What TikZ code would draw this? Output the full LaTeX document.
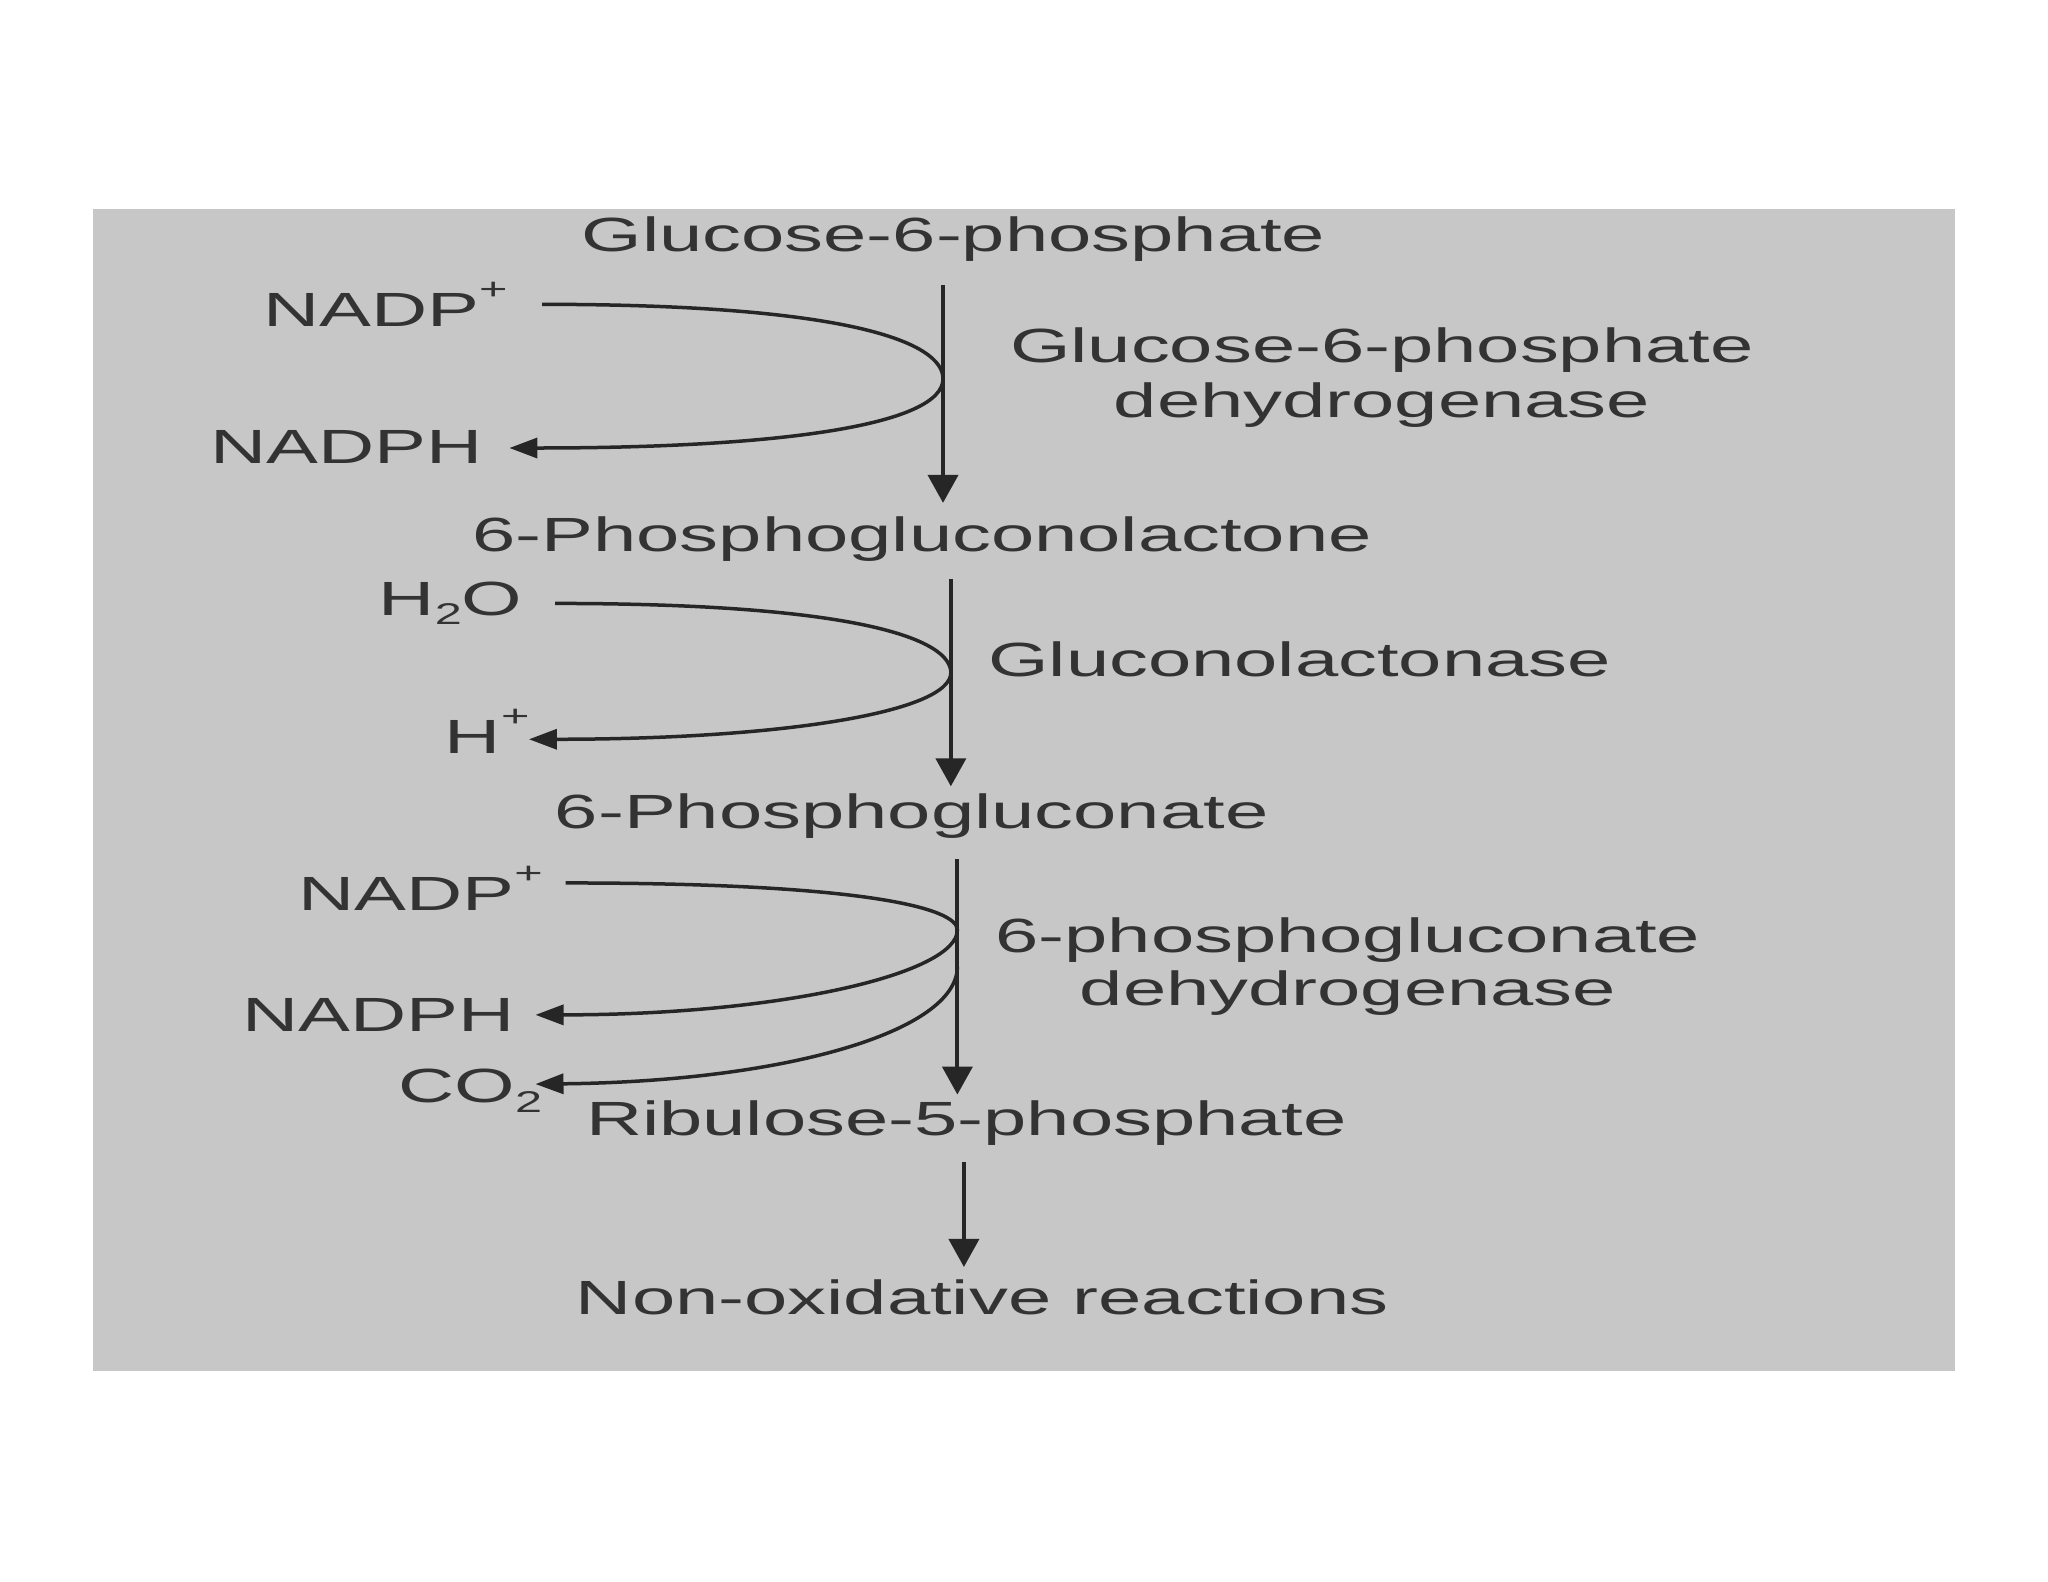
\documentclass[tikz,border=0pt]{standalone}
\usepackage{fontspec}
\setmainfont{Liberation Sans}
\usetikzlibrary{arrows.meta}
\newcommand{\T}[1]{\scalebox{1.62}[1]{#1}}
\newcommand{\Sup}[1]{\raisebox{0.55em}{\fontsize{30}{30}\selectfont #1}}
\newcommand{\Sub}[1]{\raisebox{-0.2em}{\fontsize{30}{30}\selectfont #1}}
\begin{document}
\begin{tikzpicture}[x=1.306pt,y=-1.306pt,
  lbl/.style={inner sep=0pt,text=black!80,font=\fontsize{48}{52}\selectfont},
  flow/.style={line width=4pt,draw=black!85,-{Triangle[length=28pt,width=30pt]}},
  side/.style={line width=3.5pt,draw=black!85,-{Triangle[length=28pt,width=20pt]}},
  cur/.style={line width=3pt,draw=black!85}]
\useasboundingbox (0,0) rectangle (1568,1211);
\fill[white] (0,0) rectangle (1568,1211);
\fill[black!22] (71,160) rectangle (1497,1050);
% metabolites
\node[lbl] (g6p) at (730,183) {\T{Glucose-6-phosphate}};
\node[lbl] (pgl) at (706,413) {\T{6-Phosphogluconolactone}};
\node[lbl] (pg) at (698,625) {\T{6-Phosphogluconate}};
\node[lbl] (r5p) at (740,860) {\T{Ribulose-5-phosphate}};
\node[lbl] (nox) at (752,993) {\T{Non-oxidative reactions}};
% enzymes
\node[lbl] (e1a) at (1058,268) {\T{Glucose-6-phosphate}};
\node[lbl] (e1b) at (1058,310) {\T{dehydrogenase}};
\node[lbl] (e2) at (995,505) {\T{Gluconolactonase}};
\node[lbl] (e3a) at (1032,720) {\T{6-phosphogluconate}};
\node[lbl] (e3b) at (1032,760) {\T{dehydrogenase}};
% cofactors
\node[lbl] (nadp1) at (295,233) {\T{NADP\Sup{+}}};
\node[lbl] (nadph1) at (265,342) {\T{NADPH}};
\node[lbl] (h2o) at (345,462) {\T{H\Sub{2}O}};
\node[lbl] (hp) at (373,560) {\T{H\Sup{+}}};
\node[lbl] (nadp2) at (322,680) {\T{NADP\Sup{+}}};
\node[lbl] (nadph2) at (290,777) {\T{NADPH}};
\node[lbl] (co2) at (360,835) {\T{CO\Sub{2}}};
% main arrows
\draw[flow] (722,218) -- (722,385);
\draw[flow] (728,443) -- (728,602);
\draw[flow] (733,658) -- (733,838);
\draw[flow] (738,890) -- (738,970);
% side curves
\draw[side] (415,233) .. controls (650,233) and (722,262) .. (722,290) .. controls (722,325) and (600,343) .. (390,343);
\draw[side] (425,462) .. controls (660,462) and (728,490) .. (728,515) .. controls (728,545) and (600,566) .. (405,566);
\draw[side] (433,676) .. controls (660,676) and (733,695) .. (733,712) .. controls (733,745) and (600,777) .. (410,777);
\draw[side] (733,740) .. controls (733,790) and (600,828) .. (410,830);
\end{tikzpicture}
\end{document}
